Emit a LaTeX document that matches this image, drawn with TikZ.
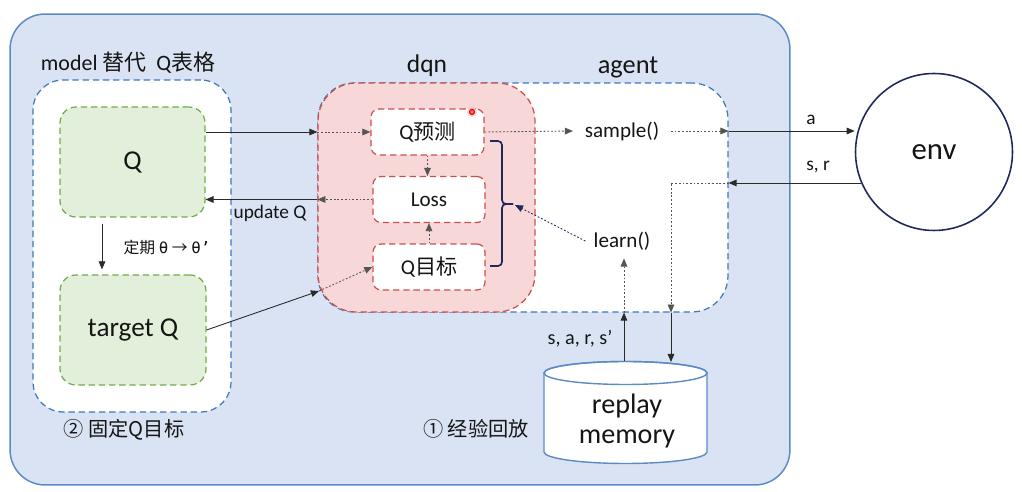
\documentclass[tikz,border=0pt]{standalone}
\usepackage{fontspec}
\setmainfont{Carlito}
\newfontfamily\cjk{Noto Sans CJK SC}
\newfontfamily\monofnt{DejaVu Sans Mono}
\usetikzlibrary{arrows.meta}
\definecolor{outerfill}{HTML}{DAE3F3}
\definecolor{outerline}{HTML}{5B8BC5}
\definecolor{bluedash}{HTML}{3E79BC}
\definecolor{redfill}{HTML}{F7D7D7}
\definecolor{redline}{HTML}{C9504D}
\definecolor{greenfill}{HTML}{E2EFDA}
\definecolor{greenline}{HTML}{70AD47}
\definecolor{navy}{HTML}{1F2A5C}
\definecolor{txt}{HTML}{151515}
\definecolor{lineclr}{HTML}{2A2A2A}
\definecolor{dotclr}{HTML}{555555}
\tikzset{
  boxdash/.style={dash pattern=on 3.6pt off 2.2pt},
  greenbox/.style={draw=greenline, fill=greenfill, boxdash, line width=0.7pt, rounded corners=0.32cm, minimum width=2.9cm, minimum height=2.2cm, font=\fontsize{15.5pt}{18pt}\selectfont, text=txt},
  redsmall/.style={draw=redline, fill=white, boxdash, line width=0.7pt, rounded corners=0.16cm, minimum width=2.24cm, minimum height=0.92cm, font=\fontsize{12pt}{14pt}\selectfont, text=txt},
  lbl/.style={font=\fontsize{11pt}{13pt}\selectfont, text=txt, inner sep=1pt},
  solidarrow/.style={draw=lineclr, line width=0.5pt, -{Triangle[length=4.6pt,width=3.8pt]}},
  dotarrow/.style={draw=dotclr, line width=0.5pt, dash pattern=on 1pt off 1.1pt, -{Triangle[length=4.6pt,width=3.8pt]}},
}
\begin{document}
\begin{tikzpicture}[x=0.02cm, y=-0.02cm]
\useasboundingbox (0,0) rectangle (1022,492);
\fill[white] (0,0) rectangle (1022,492);
% outer container
\node[draw=outerline, fill=outerfill, line width=0.85pt, rounded corners=0.7cm, minimum width=15.6cm, minimum height=9.42cm] (outer) at (400,249.5) {};
% model container
\node[draw=bluedash, fill=white, boxdash, line width=0.7pt, rounded corners=0.6cm, minimum width=3.96cm, minimum height=6.64cm] (model) at (132,246) {};
\node[font=\fontsize{12.5pt}{15pt}\selectfont, text=txt] (modeltitle) at (128,63) {model {\cjk 替代}\ \ Q{\cjk 表格}};
\node[greenbox] (Q) at (132.5,162) {Q};
\node[greenbox, minimum width=2.92cm] (TQ) at (133,330) {target Q};
\node[font=\fontsize{11.5pt}{14pt}\selectfont\cjk, text=txt] (fix) at (124,430) {② 固定Q目标};
% agent container
\node[draw=bluedash, fill=white, boxdash, line width=0.7pt, rounded corners=0.72cm, minimum width=8.2cm, minimum height=4.58cm] (agent) at (523,197.5) {};
\node[font=\fontsize{15pt}{18pt}\selectfont, text=txt] (agenttitle) at (628,67) {agent};
% dqn container
\node[draw=redline, fill=redfill, boxdash, line width=0.7pt, rounded corners=0.76cm, minimum width=4.34cm, minimum height=4.58cm] (dqn) at (426.5,197.5) {};
\node[font=\fontsize{14.5pt}{17pt}\selectfont, text=txt] (dqntitle) at (427,66) {dqn};
\node[redsmall, minimum width=2.26cm] (Qpred) at (427.5,132) {Q{\cjk 预测}};
\node[redsmall] (Loss) at (429,199.5) {Loss};
\node[redsmall] (Qtgt) at (429,267) {Q{\cjk 目标}};
% pointer dot
\fill[red!25, opacity=0.7] (472,112) circle (0.1cm);
\draw[red!85!black, line width=0.6pt, fill=red!55] (472,112) circle (0.05cm);
% brace
\draw[navy, line width=0.95pt, rounded corners=0.08cm] (490,141) -- (502,141) -- (502,204) -- (513,204);
\draw[navy, line width=0.95pt, rounded corners=0.08cm] (513,204) -- (502,204) -- (502,266) -- (490,266);
\coordinate (btip) at (515,205);
% agent functions
\node[font=\fontsize{12pt}{14pt}\selectfont, text=txt, inner xsep=0.23cm, inner ysep=2pt] (sample) at (622,131) {sample()};
\node[font=\fontsize{12pt}{14pt}\selectfont, text=txt, inner sep=0.16cm] (learn) at (622,241) {learn()};
% env
\node[draw=navy, fill=white, circle, line width=0.9pt, minimum size=3.14cm, font=\fontsize{17.5pt}{20pt}\selectfont, text=txt] (env) at (934,152) {env};
% replay memory cylinder
\draw[draw=outerline, fill=white, line width=0.8pt] (544,373) -- (544,452) arc[start angle=180, end angle=360, x radius=1.63cm, y radius=0.23cm] -- (707,373) arc[start angle=0, end angle=180, x radius=1.63cm, y radius=0.23cm] -- cycle;
\draw[draw=outerline, line width=0.8pt] (625.5,373) ellipse [x radius=1.63cm, y radius=0.23cm];
\node[font=\fontsize{16pt}{17pt}\selectfont, text=txt, align=center] (mem) at (627,421) {replay\\memory};
\coordinate (memin) at (671,362);
\coordinate (memout) at (624,361);
\node[font=\fontsize{11.5pt}{14pt}\selectfont\cjk, text=txt] (replaytxt) at (476,429) {① 经验回放};
% connectors
\draw[solidarrow] (Q.east |- Qpred.west) -- (dqn.west |- Qpred.west);
\draw[dotarrow] (dqn.west |- Qpred.west) -- (Qpred.west);
\draw[dotarrow] (Loss.west) -- (dqn.west |- Loss.west);
\draw[solidarrow] (dqn.west |- Loss.west) -- (Q.east |- Loss.west);
\node[lbl, anchor=north] (updq) at (270,203) {update Q};
\coordinate (tq1) at (319,291);
\draw[solidarrow] (TQ.east) -- (tq1);
\draw[dotarrow] (tq1) -- (Qtgt.west);
\draw[dotarrow] (Qpred.south) -- (Qpred.south |- Loss.north);
\draw[dotarrow] (Qtgt.north) -- (Loss.south);
\draw[dotarrow] (Qpred.east) -- (sample.west);
\draw[dotarrow] (sample.east) -- (agent.east |- sample.east);
\draw[solidarrow] (agent.east |- sample.east) -- (env.west |- sample.east);
\node[lbl] (alab) at (811,120) {a};
\draw[solidarrow] (env.203) -- (agent.east |- env.203);
\node[lbl] (srlab) at (818,167) {s, r};
\draw[dotarrow] (agent.east |- env.203) -| (memin |- agent.south);
\draw[solidarrow] (memin |- agent.south) -- (memin);
\draw[solidarrow] (memout) -- (memout |- agent.south);
\draw[dotarrow] (memout |- agent.south) -- (memout |- learn.south);
\node[lbl, font=\fontsize{11.5pt}{14pt}\selectfont] (sarslab) at (580,339) {s, a, r, s’};
\draw[dotarrow, draw=navy] (learn.west) -- (btip);
\coordinate (qx) at (102,0);
\draw[solidarrow, shorten <=0.12cm, shorten >=0.1cm] (Q.south -| qx) -- (TQ.north -| qx);
\node[font=\fontsize{9pt}{11pt}\selectfont, text=txt] (periodic) at (167,247) {{\cjk 定期} {\monofnt θ} {\cjk →} {\monofnt θ’}};
\end{tikzpicture}
\end{document}
